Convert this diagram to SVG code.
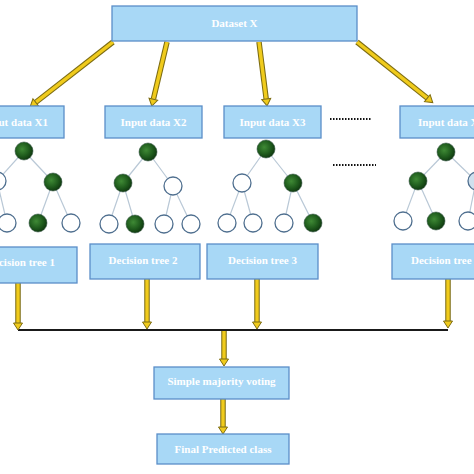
<svg xmlns="http://www.w3.org/2000/svg" width="474" height="474" viewBox="0 0 474 474">
<defs>
<style>
.box{fill:#a8d8f6;stroke:#5a8ec8;stroke-width:1.3}
.lbl{font-family:"Liberation Serif","Times New Roman",serif;font-weight:bold;font-size:11px;fill:#ffffff}
.ao{stroke:#7d6c12;stroke-width:5.5;fill:none}
.ai{stroke:#f0cb1c;stroke-width:3.4;fill:none;marker-end:url(#ah)}
.edge{stroke:#b9c8d6;stroke-width:1.2}
.w{fill:#ffffff;stroke:#4f6f8f;stroke-width:1.3}
.g{fill:url(#gg);stroke:#3a5a4a;stroke-width:0.6}
.dots{stroke:#111;stroke-width:2;stroke-dasharray:1.5 1.5}
</style>
<marker id="ah" markerUnits="userSpaceOnUse" markerWidth="12" markerHeight="12" refX="0" refY="6" orient="auto" overflow="visible">
<path d="M0,1.5 L7,6 L0,10.5 Z" fill="#f0cb1c" stroke="#7d6c12" stroke-width="1"/>
</marker>
<radialGradient id="gg" cx="0.4" cy="0.4" r="0.65">
<stop offset="0" stop-color="#3f8a35"/>
<stop offset="0.6" stop-color="#1e5a1c"/>
<stop offset="1" stop-color="#0e340e"/>
</radialGradient>
</defs>
<rect width="474" height="474" fill="#ffffff"/>

<g id="connectors">
<line class="ao" x1="113" y1="42" x2="35.7" y2="102.3"/><line class="ai" x1="113" y1="42" x2="35.7" y2="102.3"/>
<line class="ao" x1="167" y1="42" x2="153.4" y2="99.2"/><line class="ai" x1="167" y1="42" x2="153.4" y2="99.2"/>
<line class="ao" x1="259" y1="42" x2="266.2" y2="99"/><line class="ai" x1="259" y1="42" x2="266.2" y2="99"/>
<line class="ao" x1="357" y1="42" x2="427.3" y2="98.2"/><line class="ai" x1="357" y1="42" x2="427.3" y2="98.2"/>
<line x1="18" y1="330" x2="448" y2="330" stroke="#1a1a1a" stroke-width="2"/>
<line class="ao" x1="18" y1="283" x2="18" y2="323"/><line class="ai" x1="18" y1="283" x2="18" y2="323"/>
<line class="ao" x1="147" y1="279" x2="147" y2="322"/><line class="ai" x1="147" y1="279" x2="147" y2="322"/>
<line class="ao" x1="257" y1="279" x2="257" y2="322"/><line class="ai" x1="257" y1="279" x2="257" y2="322"/>
<line class="ao" x1="448" y1="279" x2="448" y2="321"/><line class="ai" x1="448" y1="279" x2="448" y2="321"/>
<line class="ao" x1="224" y1="331" x2="224" y2="359"/><line class="ai" x1="224" y1="331" x2="224" y2="359"/>
<line class="ao" x1="223" y1="399" x2="223" y2="427"/><line class="ai" x1="223" y1="399" x2="223" y2="427"/>
</g>

<g id="dataset">
<rect class="box" x="112" y="6" width="245" height="35"/>
<text class="lbl" x="234.5" y="27" text-anchor="middle">Dataset X</text>
</g>

<g id="input1">
<rect class="box" x="-20" y="106" width="84" height="32"/>
<text class="lbl" x="48" y="126" text-anchor="end">Input data X1</text>
</g>
<g id="input2">
<rect class="box" x="105" y="106" width="97" height="32"/>
<text class="lbl" x="153.5" y="126" text-anchor="middle">Input data X2</text>
</g>
<g id="input3">
<rect class="box" x="224" y="106" width="97" height="32"/>
<text class="lbl" x="272.5" y="126" text-anchor="middle">Input data X3</text>
</g>
<g id="input4">
<rect class="box" x="400" y="106" width="90" height="32"/>
<text class="lbl" x="418" y="126">Input data Xn</text>
</g>

<g id="ellipsis">
<line class="dots" x1="330" y1="119" x2="372" y2="119"/>
<line class="dots" x1="333" y1="165" x2="376" y2="165"/>
</g>

<g id="tree1">
<line class="edge" x1="24" y1="151" x2="-3" y2="181"/>
<line class="edge" x1="24" y1="151" x2="53" y2="182"/>
<line class="edge" x1="-3" y1="181" x2="7" y2="223"/>
<line class="edge" x1="53" y1="182" x2="38" y2="223"/>
<line class="edge" x1="53" y1="182" x2="71" y2="223"/>
<circle class="g" cx="24" cy="151" r="9"/>
<circle class="w" cx="-3" cy="181" r="9"/>
<circle class="g" cx="53" cy="182" r="9"/>
<circle class="w" cx="7" cy="223" r="9"/>
<circle class="g" cx="38" cy="223" r="9"/>
<circle class="w" cx="71" cy="223" r="9"/>
</g>
<g id="tree2">
<line class="edge" x1="148" y1="152" x2="123" y2="183"/>
<line class="edge" x1="148" y1="152" x2="173" y2="186"/>
<line class="edge" x1="123" y1="183" x2="109" y2="224"/>
<line class="edge" x1="123" y1="183" x2="135" y2="224"/>
<line class="edge" x1="173" y1="186" x2="164" y2="224"/>
<line class="edge" x1="173" y1="186" x2="191" y2="224"/>
<circle class="g" cx="148" cy="152" r="9"/>
<circle class="g" cx="123" cy="183" r="9"/>
<circle class="w" cx="173" cy="186" r="9"/>
<circle class="w" cx="109" cy="224" r="9"/>
<circle class="g" cx="135" cy="224" r="9"/>
<circle class="w" cx="164" cy="224" r="9"/>
<circle class="w" cx="191" cy="224" r="9"/>
</g>
<g id="tree3">
<line class="edge" x1="266" y1="149" x2="242" y2="183"/>
<line class="edge" x1="266" y1="149" x2="293" y2="183"/>
<line class="edge" x1="242" y1="183" x2="227" y2="223"/>
<line class="edge" x1="242" y1="183" x2="253" y2="223"/>
<line class="edge" x1="293" y1="183" x2="284" y2="223"/>
<line class="edge" x1="293" y1="183" x2="313" y2="223"/>
<circle class="g" cx="266" cy="149" r="9"/>
<circle class="w" cx="242" cy="183" r="9"/>
<circle class="g" cx="293" cy="183" r="9"/>
<circle class="w" cx="227" cy="223" r="9"/>
<circle class="w" cx="253" cy="223" r="9"/>
<circle class="w" cx="284" cy="223" r="9"/>
<circle class="g" cx="313" cy="223" r="9"/>
</g>
<g id="tree4">
<line class="edge" x1="446" y1="152" x2="418" y2="181"/>
<line class="edge" x1="446" y1="152" x2="476" y2="181"/>
<line class="edge" x1="418" y1="181" x2="403" y2="221"/>
<line class="edge" x1="418" y1="181" x2="436" y2="221"/>
<line class="edge" x1="476" y1="181" x2="468" y2="221"/>
<circle class="g" cx="446" cy="152" r="9"/>
<circle class="g" cx="418" cy="181" r="9"/>
<circle class="w" cx="477" cy="181" r="9" style="fill:#cfe0ee"/>
<circle class="w" cx="403" cy="221" r="9"/>
<circle class="g" cx="436" cy="221" r="9"/>
<circle class="w" cx="468" cy="221" r="9"/>
</g>

<g id="dtree1">
<rect class="box" x="-30" y="247" width="107" height="36"/>
<text class="lbl" x="55" y="266" text-anchor="end">Decision tree 1</text>
</g>
<g id="dtree2">
<rect class="box" x="90" y="244" width="110" height="35"/>
<text class="lbl" x="143" y="264" text-anchor="middle">Decision tree 2</text>
</g>
<g id="dtree3">
<rect class="box" x="207" y="244" width="111" height="35"/>
<text class="lbl" x="262.5" y="264" text-anchor="middle">Decision tree 3</text>
</g>
<g id="dtree4">
<rect class="box" x="392" y="244" width="100" height="35"/>
<text class="lbl" x="411" y="264">Decision tree n</text>
</g>

<g id="voting">
<rect class="box" x="154" y="367" width="135" height="32"/>
<text class="lbl" x="221.5" y="385" text-anchor="middle">Simple majority voting</text>
</g>
<g id="final">
<rect class="box" x="157" y="434" width="132" height="30"/>
<text class="lbl" x="223" y="453" text-anchor="middle">Final Predicted class</text>
</g>
</svg>
